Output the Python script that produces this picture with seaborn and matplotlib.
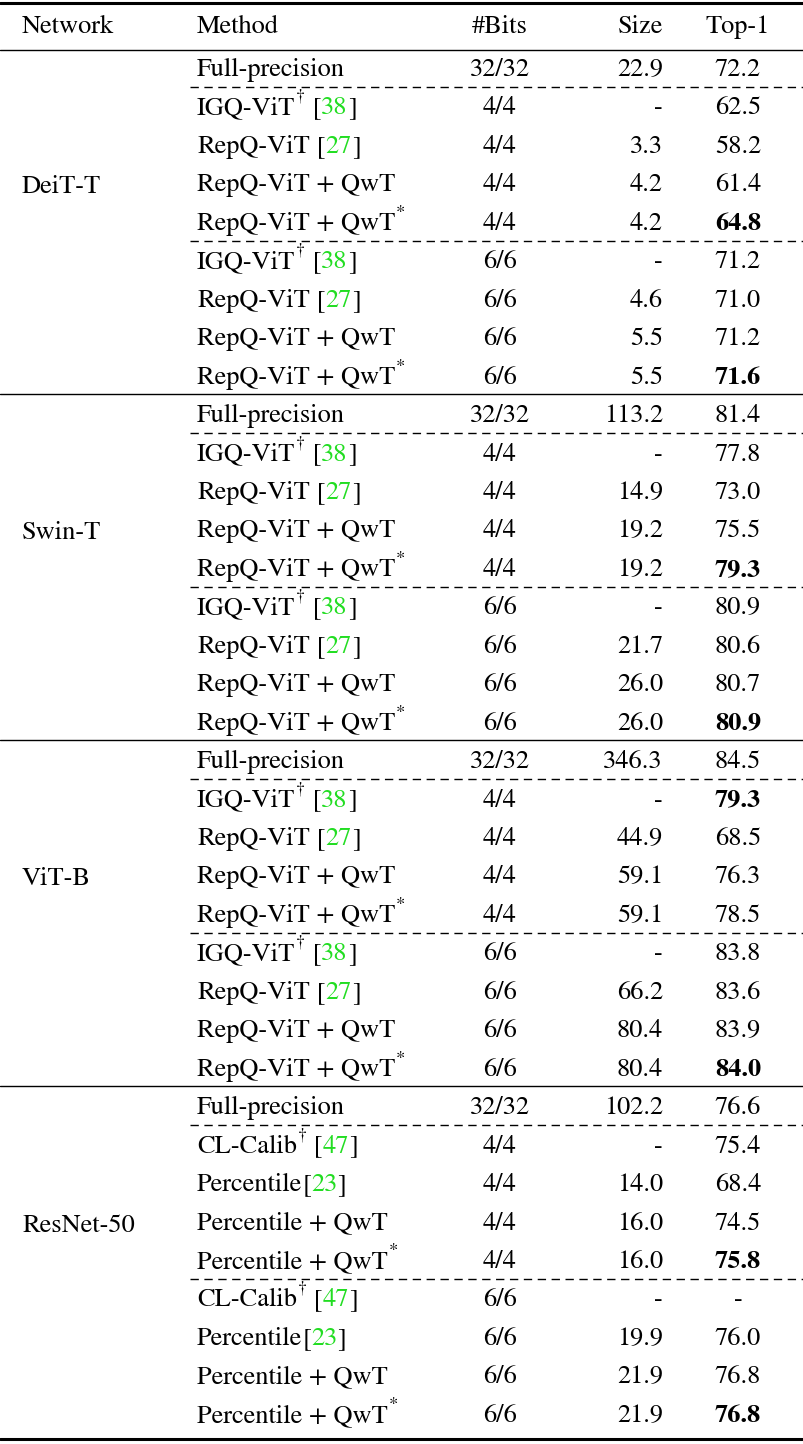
import matplotlib
matplotlib.use("Agg")
import matplotlib.pyplot as plt
import seaborn as sns

sns.set_theme(style="white")
plt.rcParams["font.family"] = ["STIXGeneral", "Liberation Serif", "DejaVu Serif"]
plt.rcParams["mathtext.fontset"] = "stix"
plt.rcParams["text.color"] = "black"

# ── Data ─────────────────────────────────────────────────────────────────
networks = ["DeiT-T", "Swin-T", "ViT-B", "ResNet-50"]
vit_methods = [
    ("Full-precision", "", "", ""),
    ("IGQ-ViT", "dag", "38", " "),
    ("RepQ-ViT", "", "27", " "),
    ("RepQ-ViT + QwT", "", "", ""),
    ("RepQ-ViT + QwT", "star", "", ""),
]
cnn_methods = [
    ("Full-precision", "", "", ""),
    ("CL-Calib", "dag", "47", " "),
    ("Percentile", "", "23", ""),
    ("Percentile + QwT", "", "", ""),
    ("Percentile + QwT", "star", "", ""),
]
bits = ["32/32", "4/4", "4/4", "4/4", "4/4", "6/6", "6/6", "6/6", "6/6"]
sizes = [
    ["22.9", "-", "3.3", "4.2", "4.2", "-", "4.6", "5.5", "5.5"],
    ["113.2", "-", "14.9", "19.2", "19.2", "-", "21.7", "26.0", "26.0"],
    ["346.3", "-", "44.9", "59.1", "59.1", "-", "66.2", "80.4", "80.4"],
    ["102.2", "-", "14.0", "16.0", "16.0", "-", "19.9", "21.9", "21.9"],
]
top1 = [
    ["72.2", "62.5", "58.2", "61.4", "64.8", "71.2", "71.0", "71.2", "71.6"],
    ["81.4", "77.8", "73.0", "75.5", "79.3", "80.9", "80.6", "80.7", "80.9"],
    ["84.5", "79.3", "68.5", "76.3", "78.5", "83.8", "83.6", "83.9", "84.0"],
    ["76.6", "75.4", "68.4", "74.5", "75.8", "-", "76.0", "76.8", "76.8"],
]
bold_idx = [[4, 8], [4, 8], [1, 8], [4, 8]]

# ── Layout ───────────────────────────────────────────────────────────────
W, H = 804, 1444
FS = 19
GREEN = "#22dd22"
fig = plt.figure(figsize=(W / 100, H / 100), dpi=100)
ax = fig.add_axes([0, 0, 1, 1])
ax.set_xlim(0, W)
ax.set_ylim(H, 0)
ax.axis("off")
renderer = fig.canvas.get_renderer()


def put(x, y, s, **kw):
    t = ax.text(x, y, s, fontsize=FS, va="center", color=kw.pop("color", "black"), **kw)
    return x + t.get_window_extent(renderer).width


def method_text(x, y, name, mark, ref, sep):
    x = put(x, y, name)
    if mark == "dag":
        x = put(x, y - 5, r"$^{\dagger}$")
    elif mark == "star":
        x = put(x, y - 5, r"$^{*}$")
    if ref:
        x = put(x, y, sep + "[")
        x = put(x, y, ref, color=GREEN)
        put(x, y, "]")


row_h = 38.45
y0 = 70
hy = 27
for x, s, ha in [(22, "Network", "left"), (197, "Method", "left"),
                 (500, "#Bits", "center"), (663, "Size", "right"),
                 (738, "Top-1", "center")]:
    ax.text(x, hy, s, fontsize=FS, va="center", ha=ha, color="black")

ax.plot([0, W], [3, 3], color="black", lw=2.2)
ax.plot([0, W], [50, 50], color="black", lw=1)

for g, net in enumerate(networks):
    methods = vit_methods if g < 3 else cnn_methods
    rows = methods + methods[1:]
    for r in range(9):
        y = y0 + (g * 9 + r) * row_h
        method_text(197, y, *rows[r])
        ax.text(500, y, bits[r], fontsize=FS, va="center", ha="center", color="black")
        ax.text(663, y, sizes[g][r], fontsize=FS, va="center", ha="right", color="black")
        ax.text(738, y, top1[g][r], fontsize=FS, va="center", ha="center", color="black",
                weight="bold" if r in bold_idx[g] else "normal")
        if r == 3:
            ax.text(22, y + 2, net, fontsize=FS, va="center", ha="left", color="black")
        if r in (0, 4):
            yd = y + row_h / 2 - 2
            ax.plot([190, W], [yd, yd], color="black", lw=1, ls=(0, (6, 4)))
    if g < 3:
        yl = y0 + (g * 9 + 8) * row_h + row_h / 2 - 3
        ax.plot([0, W], [yl, yl], color="black", lw=1)

ax.plot([0, W], [1439, 1439], color="black", lw=2.2)
fig.savefig("out.png", dpi=100)
